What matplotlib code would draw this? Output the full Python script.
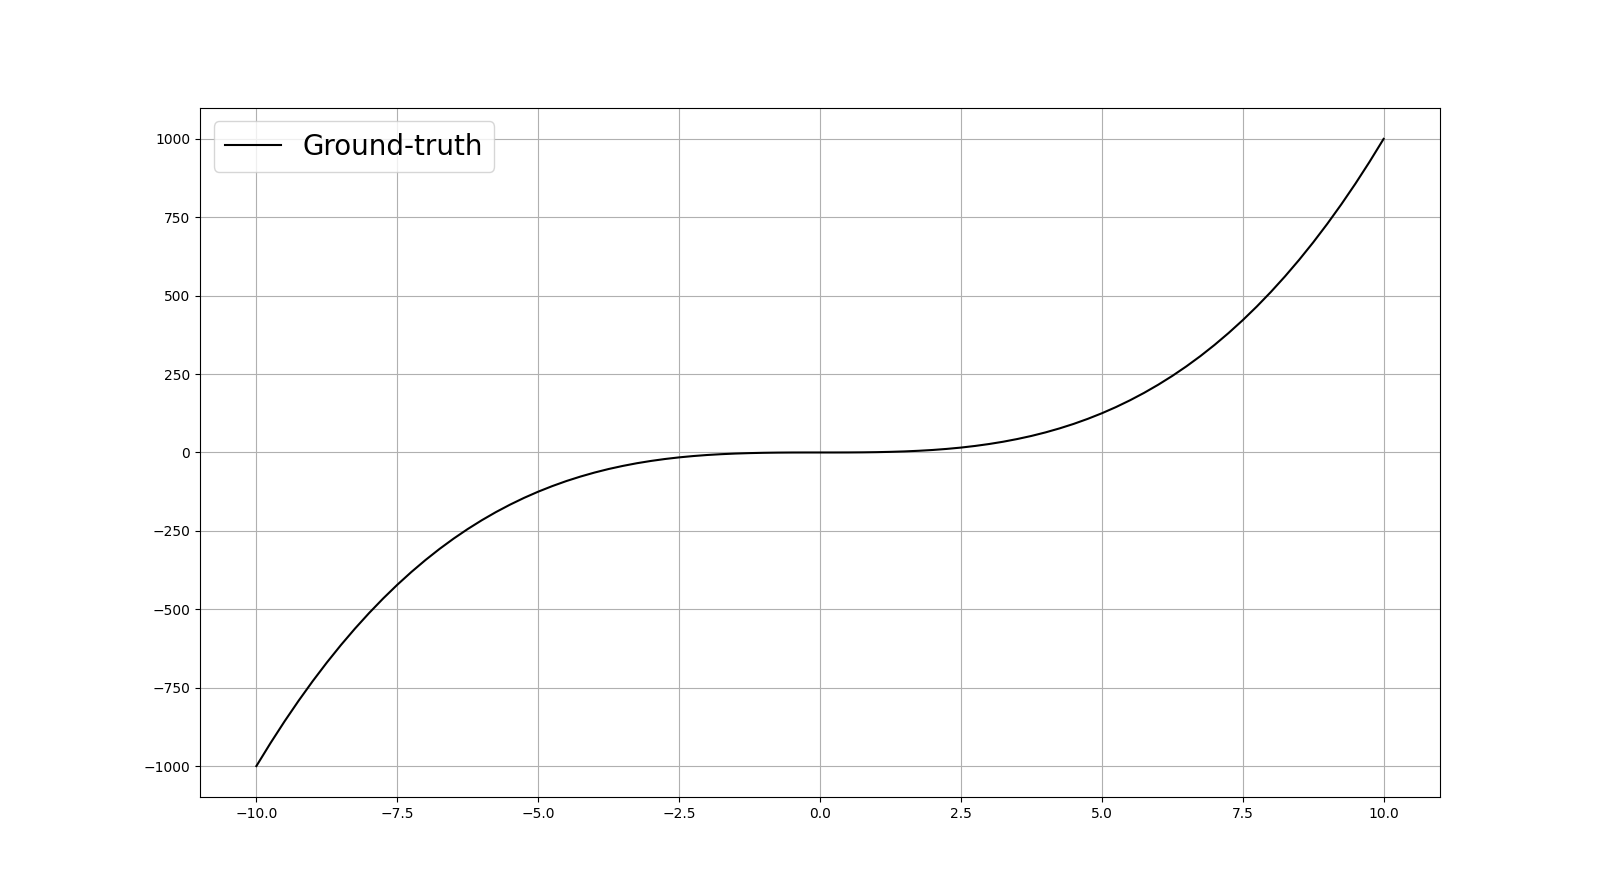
import matplotlib
matplotlib.use("Agg")
import matplotlib.pyplot as plt

# valores (curva cubica), paso 0.25
x_vals = [-10.0, -9.75, -9.5, -9.25, -9.0, -8.75, -8.5, -8.25, -8.0, -7.75,
          -7.5, -7.25, -7.0, -6.75, -6.5, -6.25, -6.0, -5.75, -5.5, -5.25,
          -5.0, -4.75, -4.5, -4.25, -4.0, -3.75, -3.5, -3.25, -3.0, -2.75,
          -2.5, -2.25, -2.0, -1.75, -1.5, -1.25, -1.0, -0.75, -0.5, -0.25,
          0.0,
          0.25, 0.5, 0.75, 1.0, 1.25, 1.5, 1.75, 2.0, 2.25, 2.5,
          2.75, 3.0, 3.25, 3.5, 3.75, 4.0, 4.25, 4.5, 4.75, 5.0,
          5.25, 5.5, 5.75, 6.0, 6.25, 6.5, 6.75, 7.0, 7.25, 7.5,
          7.75, 8.0, 8.25, 8.5, 8.75, 9.0, 9.25, 9.5, 9.75, 10.0]
y_vals = [-1000, -926.9, -857.4, -791.5, -729, -669.9, -614.1, -561.5, -512, -465.5,
          -421.9, -381.1, -343, -307.5, -274.6, -244.1, -216, -190.1, -166.4, -144.7,
          -125, -107.2, -91.1, -76.8, -64, -52.7, -42.9, -34.3, -27, -20.8,
          -15.6, -11.4, -8, -5.4, -3.4, -2.0, -1, -0.4, -0.1, 0,
          0,
          0, 0.1, 0.4, 1, 2.0, 3.4, 5.4, 8, 11.4, 15.6,
          20.8, 27, 34.3, 42.9, 52.7, 64, 76.8, 91.1, 107.2, 125,
          144.7, 166.4, 190.1, 216, 244.1, 274.6, 307.5, 343, 381.1, 421.9,
          465.5, 512, 561.5, 614.1, 669.9, 729, 791.5, 857.4, 926.9, 1000]

fig, ax = plt.subplots(figsize=(16, 8.96), dpi=100)
ax.plot(x_vals, y_vals, color='black', label='Ground-truth')
ax.grid(True)
ax.legend(fontsize=20)
fig.savefig("out.png")
